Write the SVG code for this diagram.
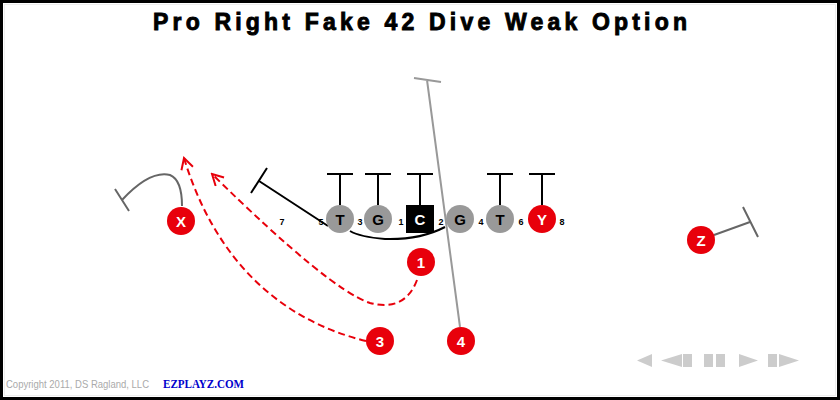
<svg xmlns="http://www.w3.org/2000/svg" width="840" height="400" viewBox="0 0 840 400">
<defs>
<style>
.title{font-family:"Liberation Sans",Arial,sans-serif;font-weight:bold;font-size:23px;fill:#000;stroke:#000;stroke-width:0.9}
.lbl{font-family:"Liberation Sans",Arial,sans-serif;font-weight:bold;font-size:15px;text-anchor:middle;dominant-baseline:central}
.num{font-family:"Liberation Sans",Arial,sans-serif;font-weight:bold;font-size:9px;text-anchor:middle;dominant-baseline:central;fill:#000}
.red{fill:#e8000b}
.gray{fill:#999}
.blk{stroke:#000;stroke-width:2;fill:none}
.gry{stroke:#666;stroke-width:2;fill:none}
.lgry{stroke:#999;stroke-width:2;fill:none}
.dash{stroke:#e8000b;stroke-width:2;fill:none;stroke-dasharray:7,4}
.ctl{fill:#ccc}
</style>
<marker id="open" viewBox="0 0 14 14" refX="12" refY="7" markerWidth="14" markerHeight="14" markerUnits="userSpaceOnUse" orient="auto">
<polyline points="1,1 12,7 1,13" fill="none" stroke="#e8000b" stroke-width="2"/>
</marker>
</defs>
<rect x="0" y="0" width="840" height="400" fill="#fff"/>
<rect x="1.5" y="1.5" width="837" height="397" fill="none" stroke="#000" stroke-width="3"/>
<rect x="4.5" y="4.5" width="831" height="391" fill="none" stroke="#eee" stroke-width="1"/>
<text class="title" x="153" y="30" textLength="534" lengthAdjust="spacing">Pro Right Fake 42 Dive Weak Option</text>

<g id="connectors">
<path class="blk" d="M340,205 V174 M327,174 H353"/>
<path class="blk" d="M378,205 V174 M365,174 H391"/>
<path class="blk" d="M420,205 V174 M407,174 H433"/>
<path class="blk" d="M500,205 V174 M487,174 H513"/>
<path class="blk" d="M542,205 V174 M529,174 H555"/>
<path class="blk" d="M328,226 L259,181 M251,193 L267,168"/>
<path class="blk" d="M445,227 Q420,240 385,239 Q360,237 350,231"/>
<path class="lgry" d="M460,327 L427,80 M414,78 L441,82"/>
<path class="gry" d="M182,206 Q182,180 170,175 Q150,170 122,200 M115,189 L129,211"/>
<path class="gry" d="M714,235 L750,222 M743,207 L758,237"/>
<path class="dash" d="M417,280 Q405,312 370,303 Q330,290 212,174" marker-end="url(#open)"/>
<path class="dash" d="M366,341 C280,320 215,260 184,158" marker-end="url(#open)"/>
</g>

<g id="T-left"><circle class="gray" cx="340" cy="219" r="14"/><text class="lbl" x="340" y="219" fill="#000">T</text></g>
<g id="G-left"><circle class="gray" cx="378" cy="219" r="14"/><text class="lbl" x="378" y="219" fill="#000">G</text></g>
<g id="C"><rect x="406" y="205" width="28" height="28" fill="#000"/><text class="lbl" x="420" y="219" fill="#fff">C</text></g>
<g id="G-right"><circle class="gray" cx="460" cy="219" r="14"/><text class="lbl" x="460" y="219" fill="#000">G</text></g>
<g id="T-right"><circle class="gray" cx="500" cy="219" r="14"/><text class="lbl" x="500" y="219" fill="#000">T</text></g>
<g id="Y"><circle class="red" cx="542" cy="219" r="14"/><text class="lbl" x="542" y="219" fill="#fff">Y</text></g>
<g id="X"><circle class="red" cx="181" cy="221" r="14"/><text class="lbl" x="181" y="221" fill="#fff">X</text></g>
<g id="Z"><circle class="red" cx="701" cy="240" r="14"/><text class="lbl" x="701" y="240" fill="#fff">Z</text></g>
<g id="B1"><circle class="red" cx="421" cy="262" r="14"/><text class="lbl" x="421" y="262" fill="#fff">1</text></g>
<g id="B3"><circle class="red" cx="380" cy="341" r="14"/><text class="lbl" x="380" y="341" fill="#fff">3</text></g>
<g id="B4"><circle class="red" cx="461" cy="341" r="14"/><text class="lbl" x="461" y="341" fill="#fff">4</text></g>

<g id="holes">
<text class="num" x="282" y="222">7</text>
<text class="num" x="321" y="222">5</text>
<text class="num" x="360" y="222">3</text>
<text class="num" x="401" y="222">1</text>
<text class="num" x="441" y="222">2</text>
<text class="num" x="481" y="222">4</text>
<text class="num" x="521" y="222">6</text>
<text class="num" x="562" y="222">8</text>
</g>

<g id="controls">
<polygon class="ctl" points="637,360.5 652,354 652,367"/>
<polygon class="ctl" points="661,360.5 682,354 682,367"/>
<rect class="ctl" x="683" y="354" width="9" height="13"/>
<rect class="ctl" x="704" y="354" width="9" height="13"/>
<rect class="ctl" x="716" y="354" width="9" height="13"/>
<polygon class="ctl" points="739,354 758,360.5 739,367"/>
<rect class="ctl" x="768" y="354" width="9" height="13"/>
<polygon class="ctl" points="779,354 799,360.5 779,367"/>
</g>

<text x="6" y="388" font-family="'Liberation Sans',Arial,sans-serif" font-size="10.5" fill="#aaa" textLength="143" lengthAdjust="spacingAndGlyphs">Copyright 2011, DS Ragland, LLC</text>
<text x="163" y="388" font-family="'Liberation Serif','Times New Roman',serif" font-weight="bold" font-size="12" fill="#0000cc" textLength="81" lengthAdjust="spacingAndGlyphs">EZPLAYZ.COM</text>
</svg>
